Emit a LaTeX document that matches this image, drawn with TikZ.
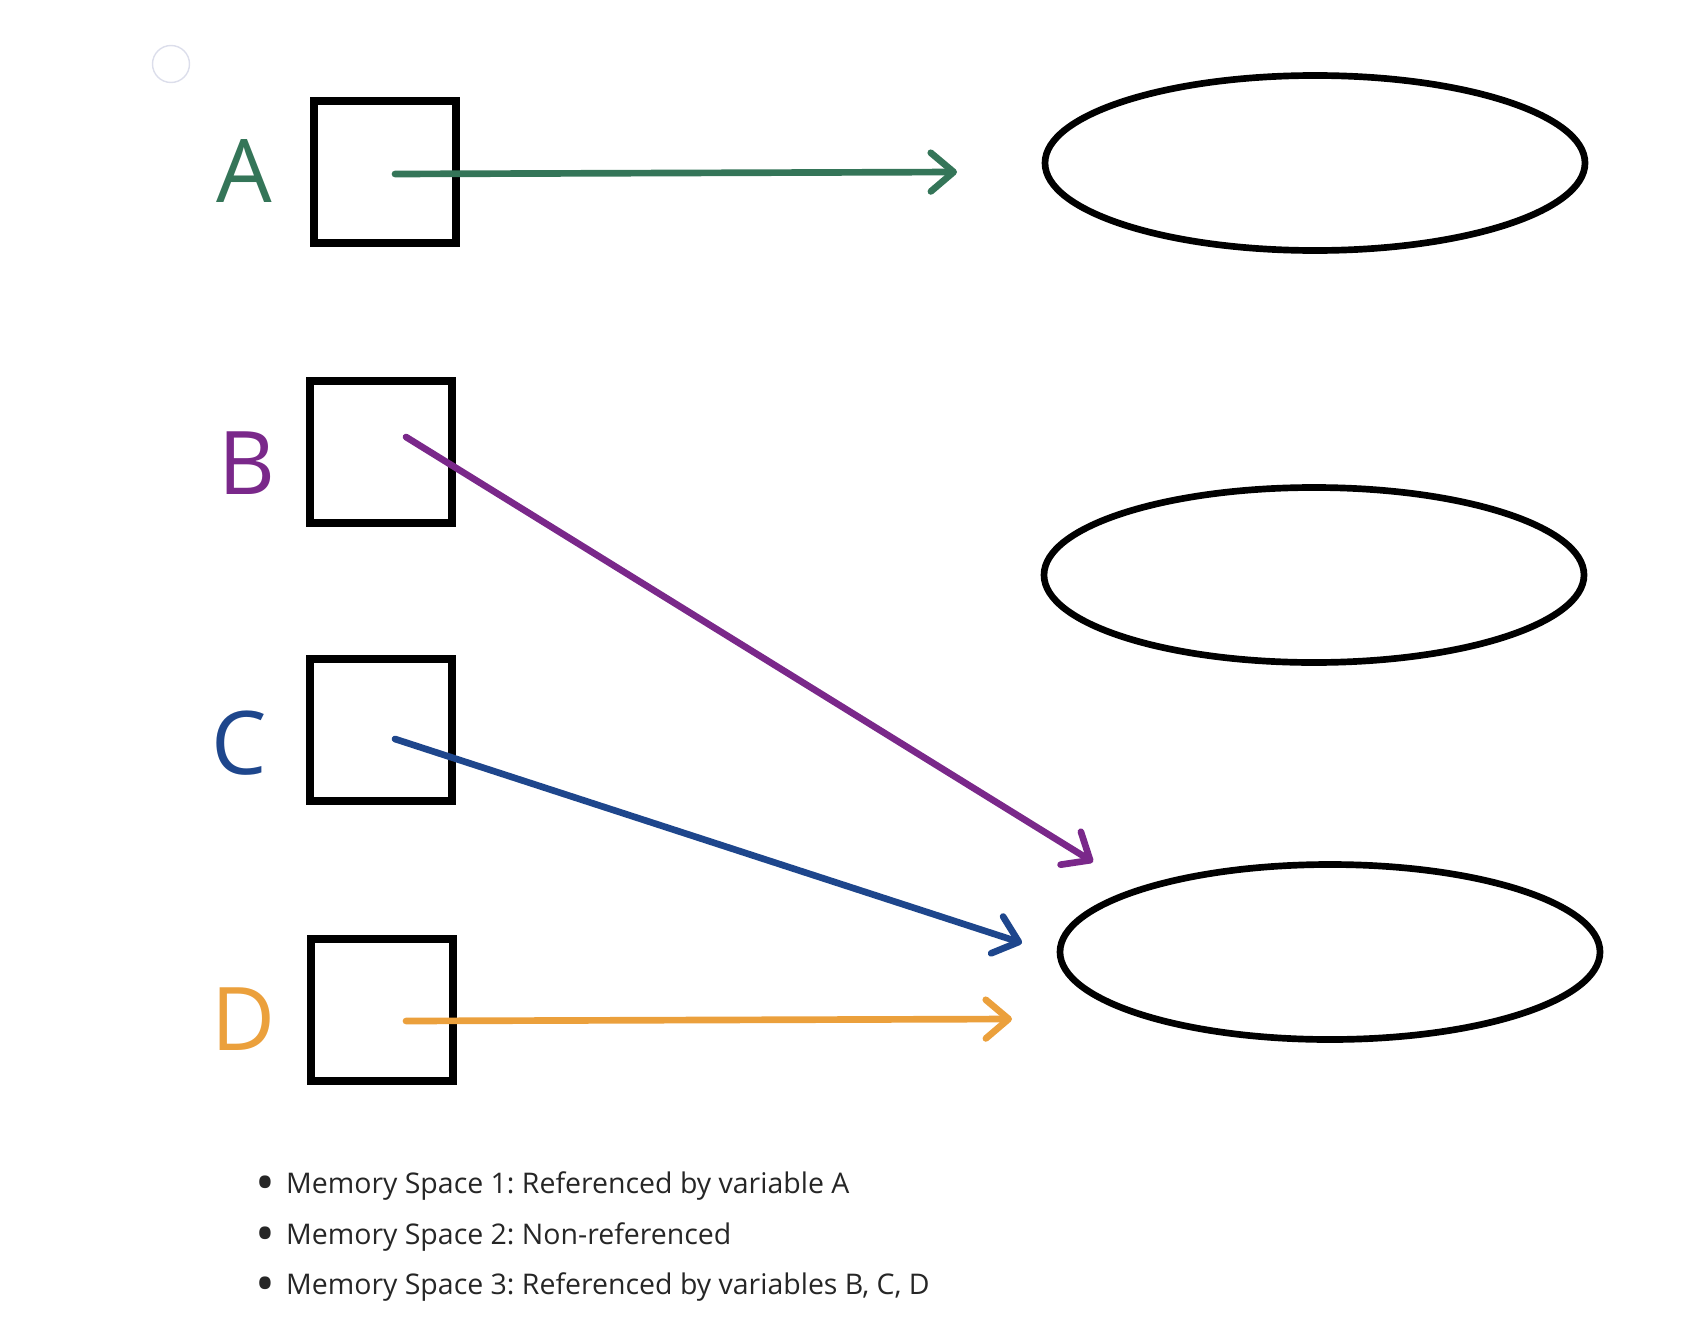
\documentclass[tikz,border=0pt]{standalone}
\usepackage{fontspec}
\setmainfont{Open Sans}
\usetikzlibrary{arrows.meta,shapes.geometric}
\definecolor{varA}{RGB}{52,117,88}
\definecolor{varB}{RGB}{122,40,138}
\definecolor{varC}{RGB}{30,70,140}
\definecolor{varD}{RGB}{235,160,60}
\definecolor{ringgray}{RGB}{220,222,235}
\tikzset{>={Straight Barb[length=13pt,width=22pt,round]}}
\tikzstyle{cell}=[draw,line width=4.2pt,minimum size=2.84cm,inner sep=0pt]
\tikzstyle{memory}=[ellipse,draw,line width=3.8pt,minimum width=10.8cm,minimum height=3.5cm,inner sep=0pt]
\tikzstyle{varname}=[font=\fontsize{50}{56}\selectfont]
\tikzstyle{ref}=[->,line width=3.8pt,line cap=round]
\tikzstyle{note}=[anchor=base west,inner sep=0pt,font=\fontsize{16.2}{20}\selectfont,text=black!85]
\newcommand{\notedot}{{\fontsize{30}{20}\selectfont\raisebox{-5pt}{\textbullet}}\hspace{0.22cm}}

\begin{document}
\frenchspacing
\begin{tikzpicture}

\useasboundingbox (0,0) rectangle (33.92,-26.76);

\node[circle,draw=ringgray,line width=0.8pt,minimum size=0.74cm] (ring) at (3.42,-1.28) {};

\node[varname,text=varA] (nameA) at (4.88,-3.42) {A};
\node[varname,text=varB] (nameB) at (4.94,-9.26) {B};
\node[varname,text=varC] (nameC) at (4.78,-14.86) {C};
\node[varname,text=varD] (nameD) at (4.88,-20.38) {D};

\node[cell] (boxA) at (7.70,-3.44) {};
\node[cell] (boxB) at (7.62,-9.04) {};
\node[cell] (boxC) at (7.62,-14.60) {};
\node[cell] (boxD) at (7.64,-20.20) {};

\node[memory] (space1) at (26.30,-3.26) {};
\node[memory] (space2) at (26.28,-11.50) {};
\node[memory] (space3) at (26.60,-19.04) {};

\coordinate (tipA) at (19.14,-3.44);
\coordinate (tipB) at (21.86,-17.24);
\coordinate (tipC) at (20.44,-18.86);
\coordinate (tipD) at (20.24,-20.38);

\draw[ref,varA] ([xshift=0.20cm,yshift=-0.04cm]boxA.center) to (tipA);
\draw[ref,varB] ([xshift=0.50cm,yshift=0.30cm]boxB.center) to (tipB);
\draw[ref,varC] ([xshift=0.28cm,yshift=-0.18cm]boxC.center) to (tipC);
\draw[ref,varD] ([xshift=0.48cm,yshift=-0.22cm]boxD.center) to (tipD);

\node[note] (note1) at (5.10,-23.86) {\notedot Memory Space 1: Referenced by variable A};
\node[note] (note2) at (5.10,-24.88) {\notedot Memory Space 2: Non-referenced};
\node[note] (note3) at (5.10,-25.88) {\notedot Memory Space 3: Referenced by variables B, C, D};

\end{tikzpicture}
\end{document}
